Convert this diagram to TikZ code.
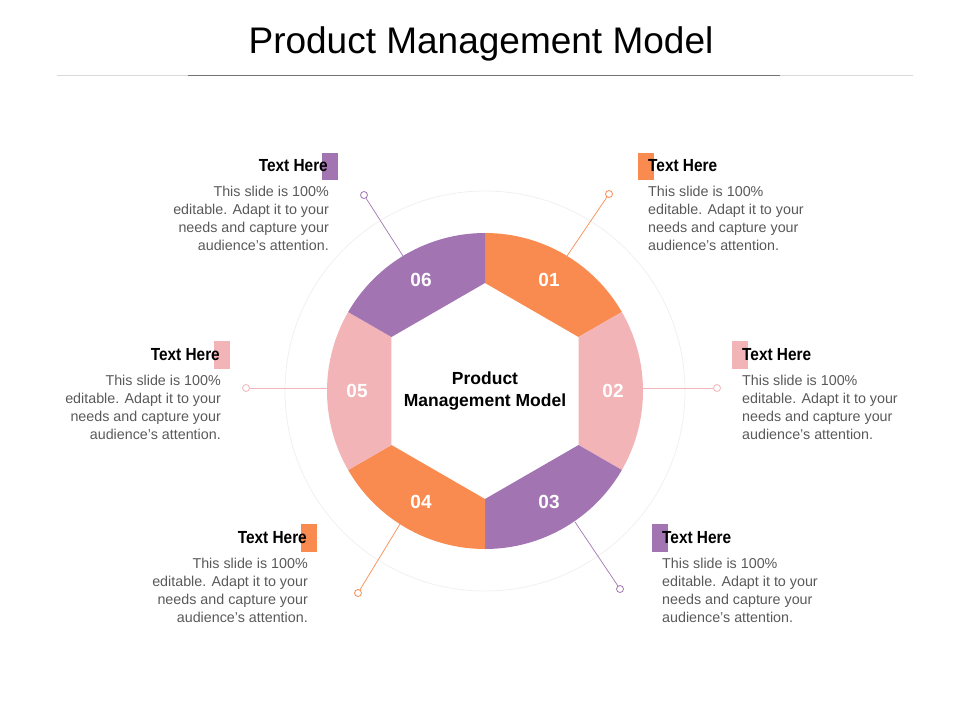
\documentclass[tikz,border=0pt]{standalone}
\usepackage{fontspec}
\setmainfont{Liberation Sans}
\begin{document}
\begin{tikzpicture}[x=1pt,y=-1pt,
  num/.style={text=white,font=\bfseries\fontsize{19}{21}\selectfont},
  ttl/.style={font=\bfseries\fontsize{17.5}{19}\selectfont,inner sep=0pt,xscale=0.88},
  bodyr/.style={font=\fontsize{14.3}{18}\selectfont,text=black!65,inner sep=0pt,anchor=north east,align=right},
  bodyl/.style={font=\fontsize{14.3}{18}\selectfont,text=black!65,inner sep=0pt,anchor=north west,align=left},
  con/.style={line width=0.7pt},
  dot/.style={circle,draw,fill=white,line width=0.8pt,minimum size=7pt,inner sep=0pt}]
\definecolor{cor}{HTML}{F98B50}
\definecolor{cpk}{HTML}{F2B4B6}
\definecolor{cpu}{HTML}{A275B2}
\useasboundingbox (0,0) rectangle (960,720);
\node[font=\fontsize{37}{40}\selectfont] (title) at (481,44) {Product Management Model};
\draw[black!15,line width=0.6pt] (57,75) -- (913,75);
\draw[black!55,line width=0.8pt] (188,75) -- (780,75);
\begin{scope}[shift={(485,391)}]
\draw[black!6,line width=0.8pt] (0,0) circle (200);
\foreach \a/\col/\n in {90/cor/01,30/cpk/02,-30/cpu/03,-90/cor/04,-150/cpk/05,150/cpu/06}{
  \pgfmathsetmacro\b{\a-60}
  \pgfmathsetmacro\m{\a-30}
  \fill[\col] (-\a:158) arc[start angle=-\a,end angle=-\b,radius=158] -- (-\b:108) -- (-\a:108) -- cycle;
  \node[num] (n\n) at (-\m:128) {\n};
}
\node[font=\bfseries\fontsize{17.5}{22}\selectfont,align=center] (center) at (0,0) {Product\\Management Model};
\end{scope}
% connectors
\coordinate (e1) at (567,256); \node[dot,draw=cor] (d1) at (609,194) {};
\coordinate (e2) at (643,388); \node[dot,draw=cpk] (d2) at (717,388) {};
\coordinate (e3) at (575,522); \node[dot,draw=cpu] (d3) at (620,589) {};
\coordinate (e4) at (400,524); \node[dot,draw=cor] (d4) at (358,593) {};
\coordinate (e5) at (328,388); \node[dot,draw=cpk] (d5) at (246,388) {};
\coordinate (e6) at (403,256); \node[dot,draw=cpu] (d6) at (364,195) {};
\draw[con,cor] (d1) -- (e1);
\draw[con,cpk] (d2) -- (e2);
\draw[con,cpu] (d3) -- (e3);
\draw[con,cor] (d4) -- (e4);
\draw[con,cpk] (d5) -- (e5);
\draw[con,cpu] (d6) -- (e6);
% label boxes
\fill[cpu] (322,153) rectangle (338,180);
\fill[cor] (638,153) rectangle (654,180);
\fill[cpk] (214,341) rectangle (230,369);
\fill[cpk] (732,341) rectangle (748,369);
\fill[cor] (301,524) rectangle (317,552);
\fill[cpu] (652,524) rectangle (668,552);
\node[ttl,anchor=east] (t6) at (328,166) {Text Here};
\node[ttl,anchor=west] (t1) at (648,166) {Text Here};
\node[ttl,anchor=east] (t5) at (220,355) {Text Here};
\node[ttl,anchor=west] (t2) at (742,355) {Text Here};
\node[ttl,anchor=east] (t4) at (307,538) {Text Here};
\node[ttl,anchor=west] (t3) at (662,538) {Text Here};
\node[bodyr] (b6) at (329,186) {This slide is 100\%\\editable. Adapt it to your\\needs and capture your\\audience’s attention.};
\node[bodyl] (b1) at (648,186) {This slide is 100\%\\editable. Adapt it to your\\needs and capture your\\audience’s attention.};
\node[bodyr] (b5) at (221,375) {This slide is 100\%\\editable. Adapt it to your\\needs and capture your\\audience’s attention.};
\node[bodyl] (b2) at (742,375) {This slide is 100\%\\editable. Adapt it to your\\needs and capture your\\audience’s attention.};
\node[bodyr] (b4) at (308,558) {This slide is 100\%\\editable. Adapt it to your\\needs and capture your\\audience’s attention.};
\node[bodyl] (b3) at (662,558) {This slide is 100\%\\editable. Adapt it to your\\needs and capture your\\audience’s attention.};
\end{tikzpicture}
\end{document}
